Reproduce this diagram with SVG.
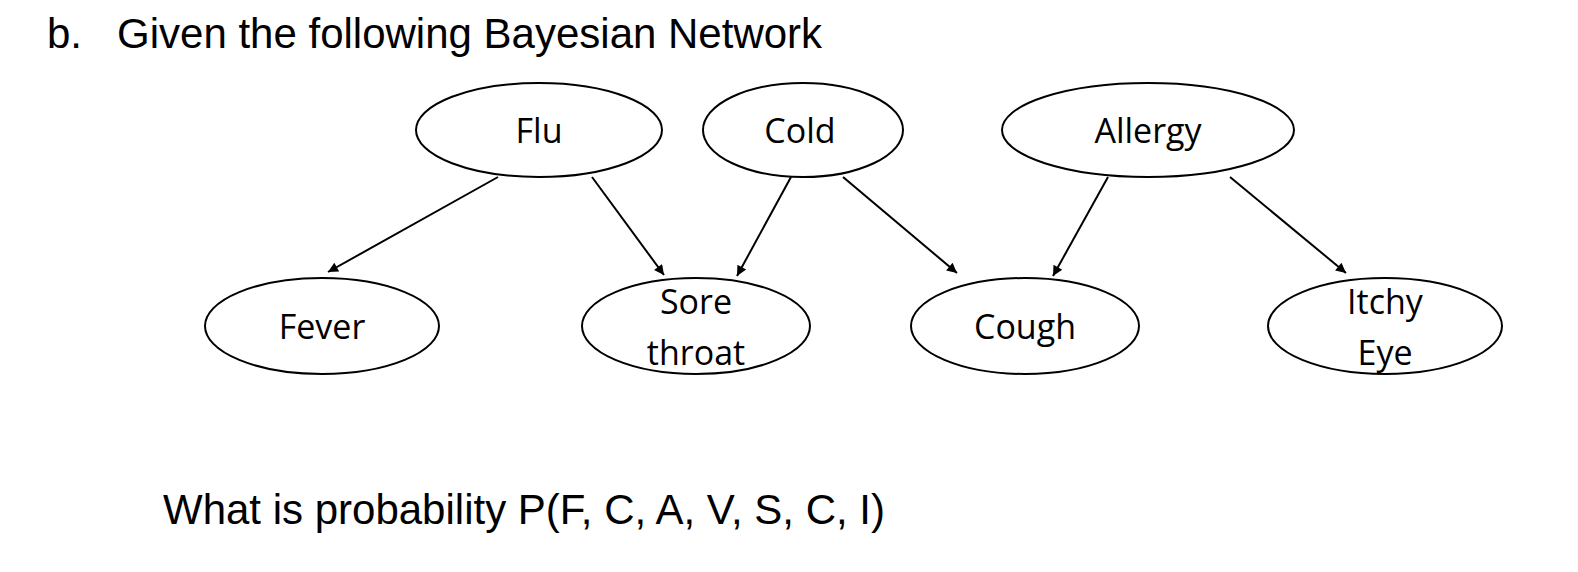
<svg xmlns="http://www.w3.org/2000/svg" width="1578" height="572" viewBox="0 0 1578 572">
<style>
.n{fill:#fff;stroke:#000;stroke-width:2}
.l{font-family:"Open Sans",sans-serif;font-size:34px;text-anchor:middle}
.t{font-family:"Liberation Sans",Arial,sans-serif;font-size:42px}
.c line{stroke:#000;stroke-width:2;marker-end:url(#a)}
</style>
<defs><marker id="a" viewBox="0 0 10 10" refX="10" refY="5" markerWidth="13" markerHeight="10" orient="auto" markerUnits="userSpaceOnUse"><path d="M0,0L10,5L0,10z"/></marker></defs>
<rect width="1578" height="572" fill="#fff"/>
<text class="t" x="47" y="48" xml:space="preserve">b.   Given the following Bayesian Network</text>
<text class="t" x="163" y="524">What is probability P(F, C, A, V, S, C, I)</text>
<g class="c">
<line x1="498" y1="177" x2="328" y2="272"/>
<line x1="592" y1="177" x2="664" y2="275"/>
<line x1="791" y1="177" x2="737" y2="276"/>
<line x1="843" y1="177" x2="957" y2="273"/>
<line x1="1108" y1="177" x2="1053" y2="276"/>
<line x1="1230" y1="177" x2="1346" y2="273"/>
</g>
<g id="flu"><ellipse class="n" cx="539" cy="130" rx="123" ry="47"/><text class="l" x="539" y="143">Flu</text></g>
<g id="cold"><ellipse class="n" cx="803" cy="130" rx="100" ry="47"/><text class="l" x="800" y="143">Cold</text></g>
<g id="allergy"><ellipse class="n" cx="1148" cy="130" rx="146" ry="47"/><text class="l" x="1148" y="143">Allergy</text></g>
<g id="fever"><ellipse class="n" cx="322" cy="326" rx="117" ry="48"/><text class="l" x="322" y="339">Fever</text></g>
<g id="sore"><ellipse class="n" cx="696" cy="326" rx="114" ry="48"/><text class="l" x="696" y="314">Sore</text><text class="l" x="696" y="365">throat</text></g>
<g id="cough"><ellipse class="n" cx="1025" cy="326" rx="114" ry="48"/><text class="l" x="1025" y="339">Cough</text></g>
<g id="itchy"><ellipse class="n" cx="1385" cy="326" rx="117" ry="48"/><text class="l" x="1385" y="314">Itchy</text><text class="l" x="1385" y="365">Eye</text></g>
</svg>
